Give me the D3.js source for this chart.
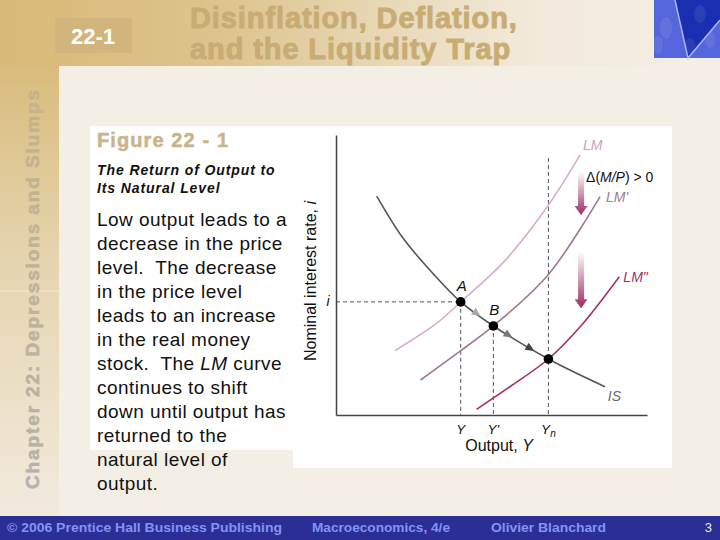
<!DOCTYPE html>
<html>
<head>
<meta charset="utf-8">
<script src="https://cdn.jsdelivr.net/npm/d3@7"></script>
<style>
  body { margin: 0; background: #f4efe5; }
  svg { display: block; font-family: "Liberation Sans", Arial, sans-serif; }
</style>
</head>
<body>
<div class="slide"></div>
<script>
// curve points (output, interest rate), arbitrary units 0..10
var isCurve  = [[1.31, 7.82], [2.16, 6.31], [3.13, 5.04], [4.01, 4.04], [5.06, 3.18], [6.83, 2.00], [8.65, 1.01]];
var lmCurve  = [[1.90, 2.30], [3.24, 3.28], [4.01, 4.04], [5.38, 5.45], [6.77, 7.40], [7.85, 9.29]];
var lm1Curve = [[2.72, 1.25], [3.99, 2.28], [5.06, 3.18], [6.83, 5.02], [8.49, 7.80]];
var lm2Curve = [[4.52, 0.20], [5.59, 1.01], [6.83, 2.00], [7.85, 3.15], [9.11, 4.94]];

var equilibria = [
  { name: "A", x: 4.01, y: 4.04 },
  { name: "B", x: 5.06, y: 3.18 },
  { name: "",  x: 6.83, y: 2.00 }
];
var xTickLabels = ["Y", "Y'", "Y"];
var xTickSubs = ["", "", "n"];
var isArrows = [[4.52, 3.63], [5.54, 2.86], [6.24, 2.38]];
var shiftArrows = [[7.88, 8.69, 7.14], [7.88, 5.83, 3.81]];

var bodyLines = [
  "Low output leads to a",
  "decrease in the price",
  "level.  The decrease",
  "in the price level",
  "leads to an increase",
  "in the real money",
  "stock.  The |LM| curve",
  "continues to shift",
  "down until output has",
  "returned to the",
  "natural level of",
  "output."
];
var footerTexts = ["\u00a9 2006 Prentice Hall Business Publishing", "Macroeconomics, 4/e", "Olivier Blanchard"];

var W = 720, H = 540;
var svg = d3.select(".slide").append("svg")
    .attr("width", W)
    .attr("height", H);

var defs = svg.append("defs");

var hg = defs.append("linearGradient").attr("id", "headGrad");
hg.append("stop").attr("offset", "0%").attr("stop-color", "#d8b977");
hg.append("stop").attr("offset", "30%").attr("stop-color", "#ddc38c");
hg.append("stop").attr("offset", "75%").attr("stop-color", "#f2ebdc");
hg.append("stop").attr("offset", "100%").attr("stop-color", "#f4efe5");

var sg = defs.append("linearGradient").attr("id", "sideGrad")
    .attr("x1", 0).attr("x2", 0).attr("y1", 0).attr("y2", 1);
sg.append("stop").attr("offset", "0%").attr("stop-color", "#d9bc7d");
sg.append("stop").attr("offset", "45%").attr("stop-color", "#e6d5b1");
sg.append("stop").attr("offset", "100%").attr("stop-color", "#f1eadd");

var tg = defs.append("linearGradient").attr("id", "sideText")
    .attr("x1", 0).attr("x2", 1).attr("y1", 0).attr("y2", 0);
tg.append("stop").attr("offset", "0%").attr("stop-color", "#b5b2ab");
tg.append("stop").attr("offset", "100%").attr("stop-color", "#c6b289");

var ag = defs.append("linearGradient").attr("id", "arrowGrad")
    .attr("x1", 0).attr("x2", 0).attr("y1", 0).attr("y2", 1);
ag.append("stop").attr("offset", "0%").attr("stop-color", "#ffffff");
ag.append("stop").attr("offset", "100%").attr("stop-color", "#9e2a63");

// header band and side strip
svg.append("rect").attr("x", 0).attr("y", 0).attr("width", W).attr("height", 66)
    .attr("fill", "url(#headGrad)");
svg.append("rect").attr("x", 0).attr("y", 66).attr("width", 59).attr("height", 450)
    .attr("fill", "url(#sideGrad)");
svg.append("line").attr("x1", 0).attr("x2", 62).attr("y1", 291).attr("y2", 291)
    .attr("stroke", "#f3ead8").attr("stroke-width", 1.2);

// blue corner decoration
var deco = svg.append("g");
deco.append("rect").attr("x", 654).attr("y", 0).attr("width", 66).attr("height", 58).attr("fill", "#5466dc");
deco.append("path").attr("d", "M675,0 L688,58 L720,20 L720,0 Z").attr("fill", "#1a2eb2");
[[666, 28, 6, 11], [658, 45, 5, 9], [700, 14, 6, 9], [710, 40, 5, 8], [690, 46, 5, 8]].forEach(function(c) {
  deco.append("ellipse").attr("cx", c[0]).attr("cy", c[1]).attr("rx", c[2]).attr("ry", c[3])
      .attr("fill", "#ffffff").attr("opacity", 0.08);
});
deco.append("path").attr("d", "M675,0 L688,58 L720,20")
    .attr("fill", "none").attr("stroke", "#a9b4f4").attr("stroke-width", 1.5);

// section number and title
svg.append("rect").attr("x", 55).attr("y", 18).attr("width", 77).attr("height", 35).attr("fill", "#d1b57c");
svg.append("text").attr("x", 93).attr("y", 44).attr("text-anchor", "middle")
    .attr("font-size", 22).attr("font-weight", "bold").attr("fill", "#ffffff").text("22-1");
["Disinflation, Deflation,", "and the Liquidity Trap"].forEach(function(s, i) {
  svg.append("text").attr("x", 190).attr("y", 28 + i * 31).attr("font-size", 29).attr("font-weight", "bold")
      .attr("letter-spacing", 0.9).attr("fill", "#c8ac73")
      .attr("stroke", "#c8ac73").attr("stroke-width", 0.9).text(s);
});

svg.append("text")
    .attr("transform", "translate(39,489) rotate(-90)")
    .attr("font-size", 19).attr("font-weight", "bold")
    .attr("textLength", 399).attr("lengthAdjust", "spacing")
    .attr("fill", "url(#sideText)")
    .attr("stroke", "url(#sideText)").attr("stroke-width", 0.6)
    .text("Chapter 22: Depressions and Slumps");

// white panels
svg.append("rect").attr("x", 90).attr("y", 126).attr("width", 204).attr("height", 324).attr("fill", "#ffffff");
svg.append("rect").attr("x", 293).attr("y", 126).attr("width", 379).attr("height", 342).attr("fill", "#ffffff");

// caption text
svg.append("text").attr("x", 97).attr("y", 147).attr("font-size", 20).attr("font-weight", "bold")
    .attr("letter-spacing", 1.1).attr("fill", "#c9b48b")
    .attr("stroke", "#c9b48b").attr("stroke-width", 0.5).text("Figure 22 - 1");
["The Return of Output to", "Its Natural Level"].forEach(function(s, i) {
  svg.append("text").attr("x", 97).attr("y", 175 + i * 18).attr("font-size", 14)
      .attr("font-weight", "bold").attr("font-style", "italic").attr("letter-spacing", 0.9)
      .attr("fill", "#111").text(s);
});
bodyLines.forEach(function(s, i) {
  var t = svg.append("text").attr("x", 97).attr("y", 226 + i * 24).attr("font-size", 19)
      .attr("letter-spacing", 0.45).attr("fill", "#111").attr("xml:space", "preserve");
  s.split("|").forEach(function(part, j) {
    t.append("tspan").attr("font-style", j % 2 ? "italic" : "normal").text(part);
  });
});

// chart
var x = d3.scaleLinear().domain([0, 10]).range([336, 647]);
var y = d3.scaleLinear().domain([0, 10]).range([415, 135]);

var chart = svg.append("g");
var line = d3.line()
    .x(function(d) { return x(d[0]); })
    .y(function(d) { return y(d[1]); })
    .curve(d3.curveCatmullRom.alpha(0.5));

// dashed guides
var dash = chart.append("g").attr("stroke", "#555").attr("stroke-width", 1).attr("stroke-dasharray", "4,3");
dash.append("line").attr("x1", x(0)).attr("x2", x(equilibria[0].x))
    .attr("y1", y(equilibria[0].y)).attr("y2", y(equilibria[0].y));
dash.append("line").attr("x1", x(equilibria[0].x)).attr("x2", x(equilibria[0].x))
    .attr("y1", y(equilibria[0].y)).attr("y2", y(0));
dash.append("line").attr("x1", x(equilibria[1].x)).attr("x2", x(equilibria[1].x))
    .attr("y1", y(equilibria[1].y)).attr("y2", y(0));
dash.append("line").attr("x1", x(equilibria[2].x)).attr("x2", x(equilibria[2].x))
    .attr("y1", y(9.18)).attr("y2", y(0));

// axes
var xAxis = d3.axisBottom(x).tickValues([]).tickSizeOuter(0);
var yAxis = d3.axisLeft(y).tickValues([]).tickSizeOuter(0);
chart.append("g").attr("transform", "translate(0," + y(0) + ")").call(xAxis)
    .select(".domain").attr("stroke", "#444").attr("stroke-width", 1.5);
chart.append("g").attr("transform", "translate(" + x(0) + ",0)").call(yAxis)
    .select(".domain").attr("stroke", "#444").attr("stroke-width", 1.5);

// curves
chart.append("path").attr("d", line(lmCurve)).attr("fill", "none").attr("stroke", "#d8accb").attr("stroke-width", 1.6);
chart.append("path").attr("d", line(lm1Curve)).attr("fill", "none").attr("stroke", "#a07798").attr("stroke-width", 1.6);
chart.append("path").attr("d", line(lm2Curve)).attr("fill", "none").attr("stroke", "#a3306a").attr("stroke-width", 1.6);
chart.append("path").attr("d", line(isCurve)).attr("fill", "none").attr("stroke", "#555").attr("stroke-width", 1.6);

// direction arrowheads on IS
var arrowShades = ["#a8a8a8", "#7a7a7a", "#444"];
isArrows.forEach(function(p, i) {
  var a = equilibria[i === 0 ? 0 : 1], b = equilibria[i === 0 ? 1 : 2];
  var ang = Math.atan2(y(b.y) - y(a.y), x(b.x) - x(a.x)) * 180 / Math.PI;
  chart.append("path").attr("d", "M5,0 L-4,-4 L-4,4 Z")
      .attr("transform", "translate(" + x(p[0]) + "," + y(p[1]) + ") rotate(" + ang + ")")
      .attr("fill", arrowShades[i]);
});

// equilibrium points
chart.selectAll(".pt").data(equilibria).enter().append("circle")
    .attr("class", "pt")
    .attr("cx", function(d) { return x(d.x); })
    .attr("cy", function(d) { return y(d.y); })
    .attr("r", 4.8).attr("fill", "#000");
chart.selectAll(".ptlab").data(equilibria).enter().append("text")
    .attr("class", "ptlab")
    .attr("x", function(d) { return x(d.x) + 1; })
    .attr("y", function(d) { return y(d.y) - 11; })
    .attr("text-anchor", "middle").attr("font-size", 15).attr("font-style", "italic")
    .attr("fill", "#111").text(function(d) { return d.name; });

// shift arrows
shiftArrows.forEach(function(a) {
  var cx = x(a[0]), top = y(a[1]), tip = y(a[2]);
  var hs = tip - 9;
  chart.append("path")
      .attr("d", "M" + (cx - 3) + "," + top + " L" + (cx + 3) + "," + top + " L" + (cx + 3) + "," + hs +
            " L" + (cx + 6.5) + "," + hs + " L" + cx + "," + tip + " L" + (cx - 6.5) + "," + hs +
            " L" + (cx - 3) + "," + hs + " Z")
      .attr("fill", "url(#arrowGrad)");
});

// curve labels
var labels = [
  { t: "LM", x: 7.94, y: 9.46, c: "#c9a2c0" },
  { t: "LM'", x: 8.68, y: 7.62, c: "#a07a98" },
  { t: "LM\"", x: 9.24, y: 4.76, c: "#a0306a" },
  { t: "IS", x: 8.74, y: 0.51, c: "#6a6a6a" }
];
labels.forEach(function(l) {
  chart.append("text").attr("x", x(l.x)).attr("y", y(l.y)).attr("font-size", 14)
      .attr("font-style", "italic").attr("fill", l.c).text(l.t);
});
var dlt = chart.append("text").attr("x", x(8.04)).attr("y", y(8.33)).attr("font-size", 14).attr("fill", "#111");
dlt.append("tspan").text("\u0394(");
dlt.append("tspan").attr("font-style", "italic").text("M/P");
dlt.append("tspan").text(") > 0");

// tick labels
xTickLabels.forEach(function(s, i) {
  var t = chart.append("text").attr("x", x(equilibria[i].x)).attr("y", 434)
      .attr("text-anchor", "middle").attr("font-size", 13.5).attr("font-style", "italic").attr("fill", "#111");
  t.append("tspan").text(s);
  if (xTickSubs[i]) t.append("tspan").attr("dy", 3).attr("font-size", 10).text(xTickSubs[i]);
});
chart.append("text").attr("x", x(0) - 8).attr("y", y(equilibria[0].y) + 4)
    .attr("text-anchor", "middle").attr("font-size", 14).attr("font-style", "italic").attr("fill", "#111").text("i");

// axis titles
var xt = chart.append("text").attr("x", 499).attr("y", 451).attr("text-anchor", "middle")
    .attr("font-size", 16).attr("fill", "#111");
xt.append("tspan").text("Output, ");
xt.append("tspan").attr("font-style", "italic").text("Y");
var yt = chart.append("text").attr("transform", "translate(316,281) rotate(-90)")
    .attr("text-anchor", "middle").attr("font-size", 16).attr("fill", "#111");
yt.append("tspan").text("Nominal interest rate, ");
yt.append("tspan").attr("font-style", "italic").text("i");

// footer bar
svg.append("rect").attr("x", 0).attr("y", 516).attr("width", W).attr("height", 24).attr("fill", "#2b2f95");
var fx = [[7, 275], [312, 138], [491, 115]];
footerTexts.forEach(function(s, i) {
  svg.append("text").attr("x", fx[i][0]).attr("y", 532).attr("font-size", 13).attr("font-weight", "bold")
      .attr("textLength", fx[i][1]).attr("lengthAdjust", "spacingAndGlyphs")
      .attr("fill", "#8393f2").text(s);
});
svg.append("text").attr("x", 712).attr("y", 532).attr("text-anchor", "end").attr("font-size", 13)
    .attr("fill", "#e8ecff").text("3");
</script>
</body>
</html>
